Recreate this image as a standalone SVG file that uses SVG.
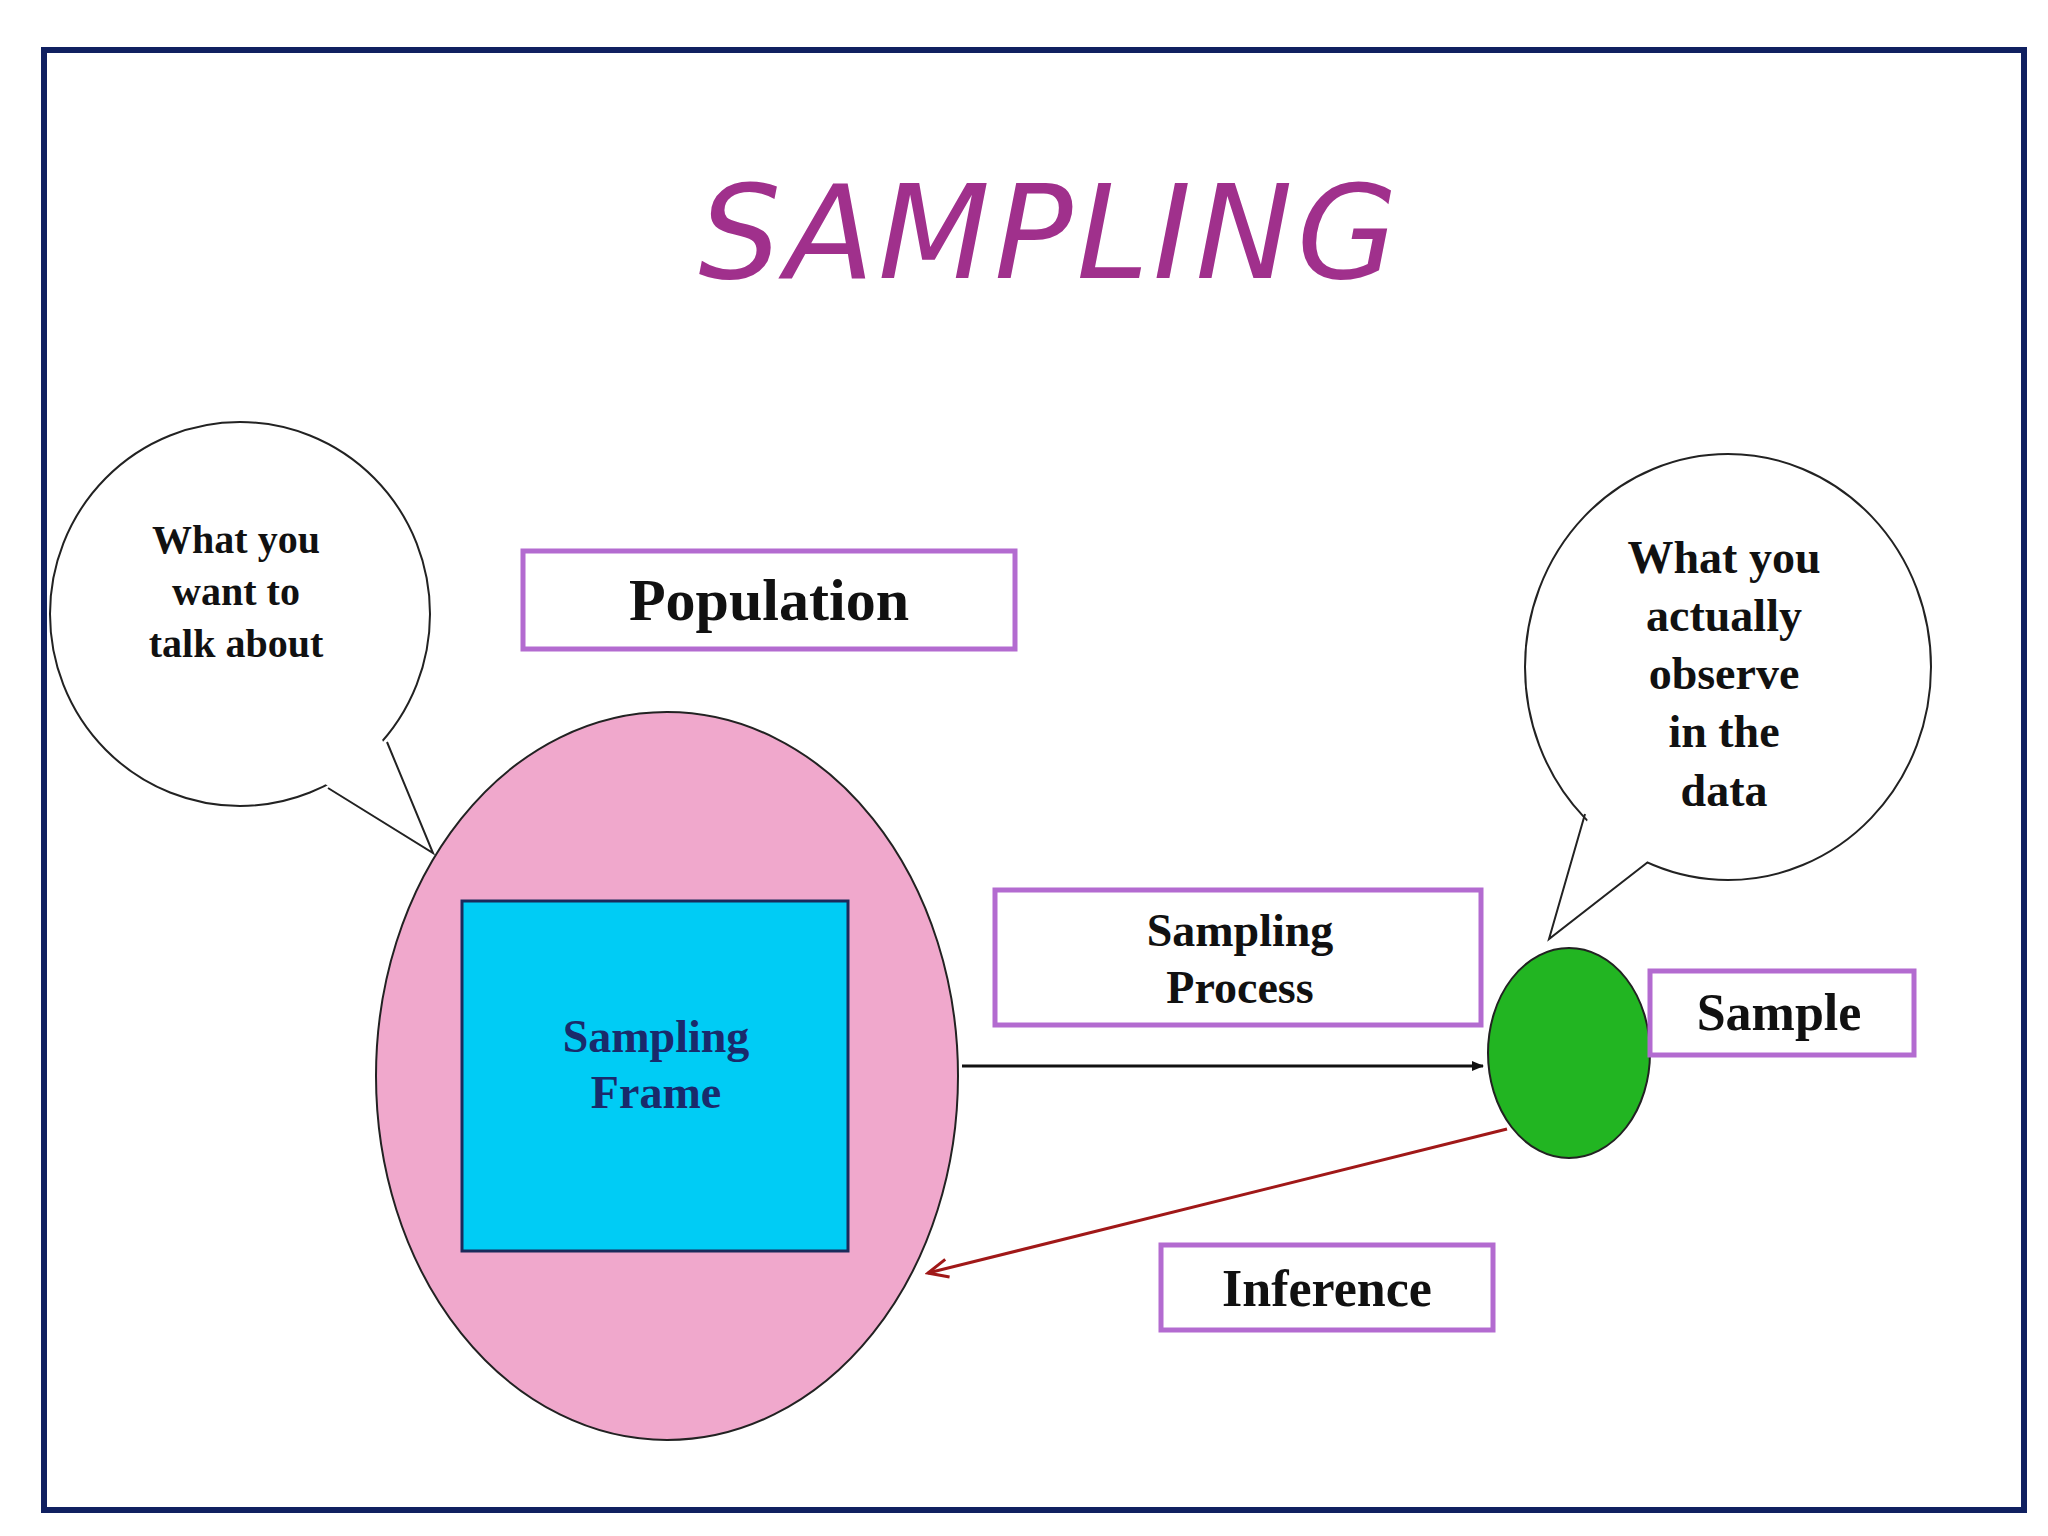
<svg xmlns="http://www.w3.org/2000/svg" width="2048" height="1536" viewBox="0 0 2048 1536">
<style>
.t{font-family:"Liberation Serif","DejaVu Serif",serif;font-weight:bold;fill:#111;text-anchor:middle}
.box{fill:#fff;stroke:#b36bd0;stroke-width:5}
.bub{fill:#fff;stroke:#222;stroke-width:2}
.tail{fill:none;stroke:#222;stroke-width:2}
</style>
<defs>
<marker id="ab" markerWidth="12" markerHeight="10" refX="11" refY="5" orient="auto" markerUnits="userSpaceOnUse"><path d="M0,0 L12,5 L0,10 z" fill="#111"/></marker>
<marker id="ar" markerWidth="24" markerHeight="22" refX="21" refY="11" orient="auto" markerUnits="userSpaceOnUse"><path d="M1,2 L21,11 L1,20" fill="none" stroke="#a01818" stroke-width="3"/></marker>
</defs>
<rect width="2048" height="1536" fill="#fff"/>
<rect x="44" y="50" width="1980" height="1460" fill="none" stroke="#102060" stroke-width="6"/>
<text x="1050" y="278" font-family="DejaVu Sans, sans-serif" font-style="italic" font-size="130" fill="#a0308c" text-anchor="middle" letter-spacing="4">SAMPLING</text>
<g id="bubble-left">
<ellipse class="bub" cx="240" cy="614" rx="190" ry="192"/>
<path d="M380,735 L433,853 L322,782 L330,760 Z" fill="#fff"/>
<path class="tail" d="M387,742 L433,853 L328,788"/>
<text class="t" font-size="40"><tspan x="236" y="553">What you</tspan><tspan x="236" y="605">want to</tspan><tspan x="236" y="657">talk about</tspan></text>
</g>
<g id="population"><rect class="box" x="523" y="551" width="492" height="98"/><text class="t" x="769" y="620" font-size="60">Population</text></g>
<g id="ellipse-pop"><ellipse cx="667" cy="1076" rx="291" ry="364" fill="#f0a8cc" stroke="#222" stroke-width="2"/></g>
<g id="frame"><rect x="462" y="901" width="386" height="350" fill="#00ccf5" stroke="#1a2a5b" stroke-width="3"/>
<text class="t" font-size="46" style="fill:#1a2a6b"><tspan x="656" y="1052">Sampling</tspan><tspan x="656" y="1108">Frame</tspan></text></g>
<g id="process"><rect class="box" x="995" y="890" width="486" height="135"/>
<text class="t" font-size="46"><tspan x="1240" y="946">Sampling</tspan><tspan x="1240" y="1003">Process</tspan></text></g>
<g id="bubble-right">
<ellipse class="bub" cx="1728" cy="667" rx="203" ry="213"/>
<path d="M1592,806 L1549,939 L1656,855 L1620,830 Z" fill="#fff"/>
<path class="tail" d="M1585,814 L1549,939 L1648,862"/>
<text class="t" font-size="46"><tspan x="1724" y="573">What you</tspan><tspan x="1724" y="631">actually</tspan><tspan x="1724" y="689">observe</tspan><tspan x="1724" y="747">in the</tspan><tspan x="1724" y="806">data</tspan></text>
</g>
<g id="sample-node"><ellipse cx="1569" cy="1053" rx="81" ry="105" fill="#22b522" stroke="#222" stroke-width="2"/></g>
<g id="sample"><rect class="box" x="1650" y="971" width="264" height="84"/><text class="t" x="1779" y="1030" font-size="52">Sample</text></g>
<g id="inference"><rect class="box" x="1161" y="1245" width="332" height="85"/><text class="t" x="1327" y="1306" font-size="52">Inference</text></g>
<g id="connectors">
<line x1="962" y1="1066" x2="1483" y2="1066" stroke="#111" stroke-width="3" marker-end="url(#ab)"/>
<line x1="1507" y1="1129" x2="928" y2="1273" stroke="#a01818" stroke-width="3" marker-end="url(#ar)"/>
</g>
</svg>
